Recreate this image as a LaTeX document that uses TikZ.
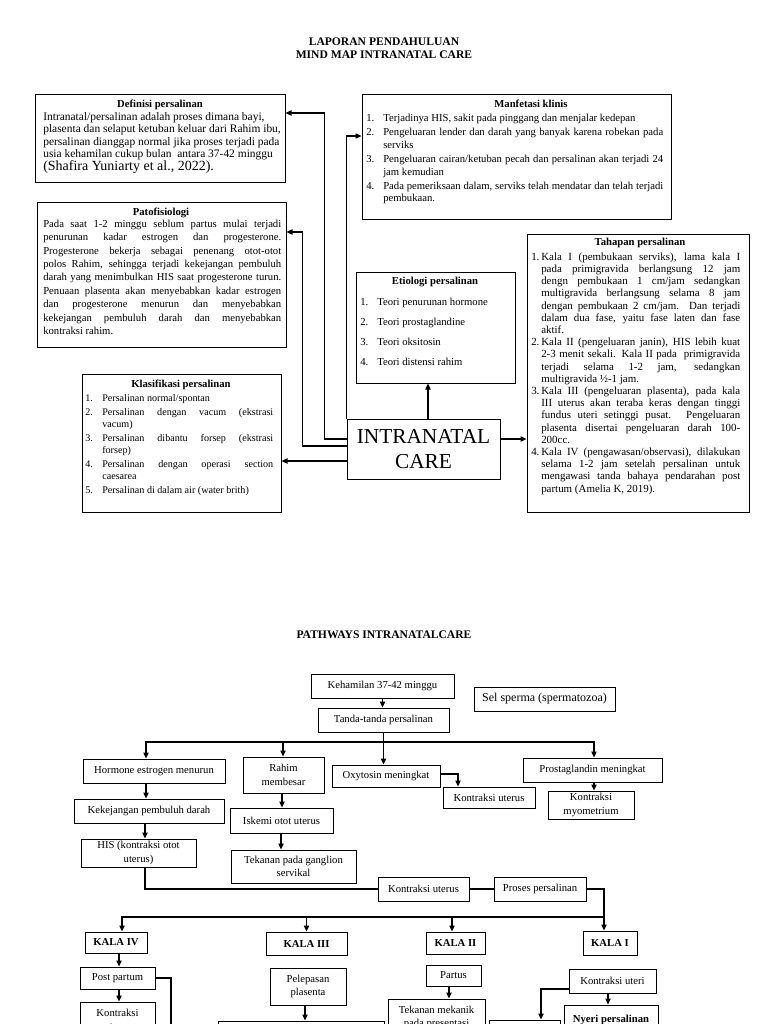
\documentclass[tikz,border=0pt]{standalone}
\usepackage{fontspec}
\setmainfont{Liberation Serif}
\usetikzlibrary{arrows.meta,fit}
\newlength\numw
\newcommand\J[1]{\makebox[\linewidth][s]{#1}}
\newcommand\JL[1]{\makebox[\dimexpr\linewidth-\numw\relax][s]{#1}}
\newcommand\NN[1]{\makebox[\numw][l]{#1}}
\newcommand\TT{\hspace*{\numw}}
% box from (x1,y1) to (x2,y2) in pixel units, with centred text
\newcommand\pb[7][]{\node[pbox,#1,minimum width={(#4-#2)*0.75pt},minimum height={(#5-#3)*0.75pt}] (#6) at ({(#2+#4)/2},{(#3+#5)/2}) {#7};}
\begin{document}
\begin{tikzpicture}[x=0.75pt,y=-0.75pt,
  bx/.style={draw, line width=0.75pt, inner sep=0pt},
  pbox/.style={draw, line width=0.75pt, inner sep=0pt, align=center, font=\fontsize{8}{10}\selectfont},
  kala/.style={font=\bfseries\fontsize{8}{10}\selectfont},
  conn/.style={line width=0.9pt},
  arr/.style={conn, -{Triangle[length=4.5pt,width=4pt]}},
  txt/.style={anchor=base west, inner sep=0pt},
  ttl/.style={anchor=base, inner sep=0pt, font=\bfseries\fontsize{8.7}{10}\selectfont},
  hd/.style={anchor=base, inner sep=0pt, font=\bfseries\fontsize{8}{9}\selectfont}]
\useasboundingbox (0,0) rectangle (768,1024);
\clip (0,0) rectangle (768,1024);
\fill[white] (0,0) rectangle (768,1024);

% ---------------- titles
\node[ttl] (t1) at (384,46) {LAPORAN PENDAHULUAN};
\node[ttl] (t2) at (384,59) {MIND MAP INTRANATAL CARE};

% ---------------- Definisi
\node[bx, fit={(35,95)(285,182)}] (def) {};
\node[hd] (deft) at (160,108) {Definisi persalinan};
\node[txt] (defb) at (43,120) {\parbox[t]{200pt}{\fontsize{8.6}{9.4}\selectfont
Intranatal/persalinan adalah proses dimana bayi,\\
plasenta dan selaput ketuban keluar dari Rahim ibu,\\
persalinan dianggap normal jika proses terjadi pada\\
usia kehamilan cukup bulan\ \ antara 37-42 minggu\\
{\fontsize{10.5}{9.4}\selectfont (Shafira Yuniarty et al., 2022).}}};

% ---------------- Manfetasi
\node[bx, fit={(362,95)(671,219)}] (man) {};
\node[hd] (mant) at (531,108) {Manfetasi klinis};
\node[txt] (manb) at (366,121) {\parbox[t]{222.75pt}{\setlength\numw{12.75pt}\fontsize{8}{9.3}\selectfont
\NN{1.}Terjadinya HIS, sakit pada pinggang dan menjalar kedepan\\[1.8pt]
\NN{2.}\JL{Pengeluaran lender dan darah yang banyak karena robekan pada}\\
\TT serviks\\[1.5pt]
\NN{3.}\JL{Pengeluaran cairan/ketuban pecah dan persalinan akan terjadi 24}\\
\TT jam kemudian\\[1.5pt]
\NN{4.}\JL{Pada pemeriksaan dalam, serviks telah mendatar dan telah terjadi}\\
\TT pembukaan.}};

% ---------------- Patofisiologi
\node[bx, fit={(37,202)(286,347)}] (pat) {};
\node[hd] (patt) at (161,215) {Patofisiologi};
\node[txt] (patb) at (43,227.3) {\parbox[t]{178.5pt}{\fontsize{8}{10.05}\selectfont
\J{Pada saat 1-2 minggu seblum partus mulai terjadi}\\
\J{penurunan kadar estrogen dan progesterone.}\\
\J{Progesterone bekerja sebagai penenang otot-otot}\\
\J{polos Rahim, sehingga terjadi kekejangan pembuluh}\\
\J{darah yang menimbulkan HIS saat progesterone turun.}\\
\J{Penuaan plasenta akan menyebabkan kadar estrogen}\\
\J{dan progesterone menurun dan menyebabkan}\\
\J{kekejangan pembuluh darah dan menyebabkan}\\
kontraksi rahim.}};

% ---------------- Etiologi
\node[bx, fit={(356,272)(515,383)}] (eti) {};
\node[hd] (etit) at (435,284) {Etiologi persalinan};
\node[txt] (etib) at (360,305) {\parbox[t]{150pt}{\setlength\numw{12.75pt}\fontsize{8}{15}\selectfont
\NN{1.}Teori penurunan hormone\\
\NN{2.}Teori prostaglandine\\
\NN{3.}Teori oksitosin\\
\NN{4.}Teori distensi rahim}};

% ---------------- Tahapan
\node[bx, fit={(527,234)(749,512)}] (tah) {};
\node[hd] (taht) at (640,245) {Tahapan persalinan};
\node[txt] (tahb) at (531,260.3) {\parbox[t]{156.75pt}{\setlength\numw{7.5pt}\fontsize{8.2}{9.15}\selectfont
\NN{1.}\JL{Kala I (pembukaan serviks), lama kala I}\\
\TT\JL{pada primigravida berlangsung 12 jam}\\
\TT\JL{dengn pembukaan 1 cm/jam sedangkan}\\
\TT\JL{multigravida berlangsung selama 8 jam}\\
\TT\JL{dengan pembukaan 2 cm/jam. Dan terjadi}\\
\TT\JL{dalam dua fase, yaitu fase laten dan fase}\\
\TT aktif.\\
\NN{2.}\JL{Kala II (pengeluaran janin), HIS lebih kuat}\\
\TT\JL{2-3 menit sekali. Kala II pada\ \ primigravida}\\
\TT\JL{terjadi selama 1-2 jam, sedangkan}\\
\TT multigravida ½-1 jam.\\
\NN{3.}\JL{Kala III (pengeluaran plasenta), pada kala}\\
\TT\JL{III uterus akan teraba keras dengan tinggi}\\
\TT\JL{fundus uteri setinggi pusat. Pengeluaran}\\
\TT\JL{plasenta disertai pengeluaran darah 100-}\\
\TT 200cc.\\
\NN{4.}\JL{Kala IV (pengawasan/observasi), dilakukan}\\
\TT\JL{selama 1-2 jam setelah persalinan untuk}\\
\TT\JL{mengawasi tanda bahaya pendarahan post}\\
\TT partum (Amelia K, 2019).}};

% ---------------- Klasifikasi
\node[bx, fit={(82,374)(281,512)}] (kla) {};
\node[hd] (klat) at (181,387) {Klasifikasi persalinan};
\node[txt] (klab) at (85,401) {\parbox[t]{141pt}{\setlength\numw{12.75pt}\fontsize{7.6}{9}\selectfont
\NN{1.}Persalinan normal/spontan\\[1.5pt]
\NN{2.}\JL{Persalinan dengan vacum (ekstrasi}\\
\TT vacum)\\[1.5pt]
\NN{3.}\JL{Persalinan dibantu forsep (ekstrasi}\\
\TT forsep)\\[1.5pt]
\NN{4.}\JL{Persalinan dengan operasi section}\\
\TT caesarea\\[1.5pt]
\NN{5.}Persalinan di dalam air (water brith)}};

% ---------------- center
\pb[font=\fontsize{16}{19}\selectfont]{347}{419}{500}{479}{ic}{INTRANATAL\\CARE}

% ---------------- mind map connectors
\draw[arr] (ic.west |- 0,439) -- ++(-22,0) |- (def.east |- 0,113);
\draw[arr] (ic.west |- 0,446) -- ++(-44,0) |- (pat.east |- 0,232);
\draw[arr] (ic.west |- 0,461) -- (kla.east |- 0,461);
\draw[arr] (ic.north west) -- (ic.north west |- 0,136) -- (man.west |- 0,136);
\draw[arr] (ic.north -| 428,0) -- (eti.south -| 428,0);
\draw[arr] (ic.east |- 0,439) -- (tah.west |- 0,439);

% ---------------- pathways
\node[ttl] (t3) at (384,638) {PATHWAYS INTRANATALCARE};

\pb{311}{674}{454}{698}{keh}{Kehamilan 37-42 minggu}
\pb[font=\fontsize{9}{10}\selectfont]{474}{687}{615}{711}{sel}{Sel sperma (spermatozoa)}
\pb{318}{708}{449}{732}{tanda}{Tanda-tanda persalinan}
\pb{83}{759}{225}{783}{horm}{Hormone estrogen menurun}
\pb{243}{757}{324}{793}{rahim}{Rahim\\membesar}
\pb{332}{765}{440}{787}{oxy}{Oxytosin meningkat}
\pb{443}{787}{535}{808}{ku1}{Kontraksi uterus}
\pb{523}{758}{662}{782}{prosta}{Prostaglandin meningkat}
\pb{548}{791}{634}{819}{myo}{Kontraksi\\myometrium}
\pb{74}{799}{224}{823}{kek}{Kekejangan pembuluh darah}
\pb{230}{808}{333}{833}{isk}{Iskemi otot uterus}
\pb{81}{839}{196}{867}{his}{HIS (kontraksi otot\\uterus)}
\pb{231}{850}{356}{883}{tek}{Tekanan pada ganglion\\servikal}
\pb{378}{877}{469}{901}{ku2}{Kontraksi uterus}
\pb{494}{877}{586}{901}{proses}{Proses persalinan}

\pb[kala]{85}{932}{147}{953}{k4}{KALA IV}
\pb[kala]{266}{932}{347}{955}{k3}{KALA III}
\pb[kala]{426}{932}{485}{954}{k2}{KALA II}
\pb[kala]{583}{931}{637}{955}{k1}{KALA I}

\pb{80}{967}{155}{989}{post}{Post partum}
\pb{270}{968}{346}{1005}{pelep}{Pelepasan\\plasenta}
\pb{426}{965}{481}{986}{partus}{Partus}
\pb{569}{969}{656}{993}{kut}{Kontraksi uteri}

\pb{80}{1002}{155}{1050}{kon4}{}
\node[anchor=base, inner sep=0pt, align=center, font=\fontsize{8}{9.75}\selectfont] (kon4t) at (117.5,1029) {Kontraksi\\uterus};
\pb{218}{1021}{384}{1050}{pl2}{}
\pb{388}{999}{485}{1050}{tekm}{}
\node[anchor=base, inner sep=0pt, align=center, font=\fontsize{8}{9.4}\selectfont] (tekmt) at (436.5,1026) {Tekanan mekanik\\pada presentasi};
\pb{489}{1020}{560}{1050}{box5}{}
\pb{564}{1005}{658}{1050}{nyeri}{}
\node[anchor=base, inner sep=0pt, font=\bfseries\fontsize{8}{9}\selectfont] (nyerit) at (611,1022) {Nyeri persalinan};

% ---------------- pathway connectors
\draw[arr] (keh.south) -- (keh.south |- tanda.north);
\coordinate (b0) at (tanda.south |- 0,742);
\draw[arr] (tanda.south) -- (tanda.south |- oxy.north);
\draw[arr] (b0) -| (horm.north -| 146,0);
\draw[arr] (b0) -| (rahim.north -| 283,0);
\draw[arr] (b0) -| (prosta.north -| 594,0);
\draw[arr] (horm.south -| 146,0) -- (kek.north -| 146,0);
\draw[arr] (rahim.south -| 282,0) -- (isk.north -| 282,0);
\draw[arr] (kek.south -| 145,0) -- (his.north -| 145,0);
\draw[arr] (isk.south -| 281,0) -- (tek.north -| 281,0);
\draw[arr] (oxy.east |- 0,774) -| (ku1.north -| 458,0);
\draw[arr] (prosta.south -| 594,0) -- (myo.north -| 594,0);
\draw[conn] (his.south -| 145,0) |- (ku2.west);
\draw[conn] (ku2.east) -- (proses.west);
\draw[arr] (proses.east) -| (k1.north -| 604,0);
\coordinate (b2) at (604,917);
\draw[arr] (b2) -| (k4.north -| 122,0);
\draw[arr] (b2) -| (k3.north);
\draw[arr] (b2) -| (k2.north -| 452,0);
\draw[arr] (k4.south -| 119,0) -- (post.north -| 119,0);
\draw[arr] (post.south -| 119,0) -- (kon4.north -| 119,0);
\draw[conn] (post.east) -| (171,1050);
\draw[arr] (pelep.south -| 305,0) -- (pl2.north -| 305,0);
\draw[arr] (partus.south -| 449,0) -- (tekm.north -| 449,0);
\draw[arr] (kut.west |- 0,989) -| (box5.north -| 541,0);
\draw[arr] (kut.south -| 608,0) -- (nyeri.north -| 608,0);
\end{tikzpicture}
\end{document}
